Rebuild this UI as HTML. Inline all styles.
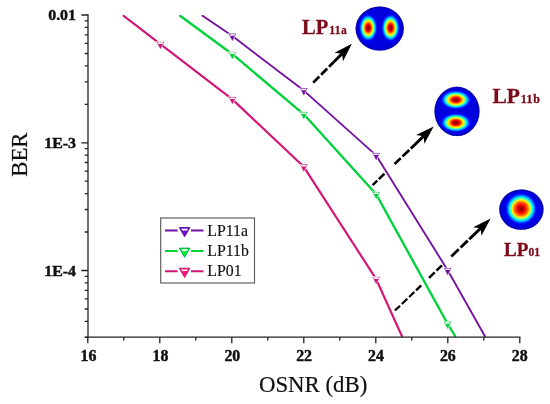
<!DOCTYPE html>
<html lang="en"><head><meta charset="utf-8"><title>BER versus OSNR</title>
<style>html,body{margin:0;padding:0;background:#fff}body{width:550px;height:404px;overflow:hidden}svg{display:block}text{font-family:"Liberation Serif","Times New Roman",serif}.tick{font-weight:bold;font-size:15px;fill:#111;stroke:#111;stroke-width:0.45px}.axl{font-size:22.8px;fill:#111;stroke:#111;stroke-width:0.2px}.leg{font-size:15.8px;fill:#111;letter-spacing:0.05px;stroke:#111;stroke-width:0.15px}.mode{font-weight:bold;fill:#7c0a1a;stroke:#7c0a1a;stroke-width:0.3px}</style></head><body>
<svg width="550" height="404" viewBox="0 0 550 404">
<defs>
<filter id="jet" color-interpolation-filters="sRGB" x="0" y="0" width="1" height="1"><feComponentTransfer><feFuncR type="table" tableValues="0.000 0.000 0.000 0.000 0.000 0.000 0.000 0.000 0.000 0.000 0.000 0.000 0.000 0.000 0.000 0.000 0.000 0.000 0.000 0.000 0.000 0.000 0.000 0.000 0.000 0.062 0.125 0.188 0.250 0.312 0.375 0.438 0.500 0.562 0.625 0.688 0.750 0.812 0.875 0.938 1.000 1.000 1.000 1.000 1.000 1.000 1.000 1.000 1.000 1.000 1.000 1.000 1.000 1.000 1.000 1.000 1.000 0.938 0.875 0.812 0.750 0.688 0.625 0.562 0.500"/><feFuncG type="table" tableValues="0.000 0.000 0.000 0.000 0.000 0.000 0.000 0.000 0.000 0.062 0.125 0.188 0.250 0.312 0.375 0.438 0.500 0.562 0.625 0.688 0.750 0.812 0.875 0.938 1.000 1.000 1.000 1.000 1.000 1.000 1.000 1.000 1.000 1.000 1.000 1.000 1.000 1.000 1.000 1.000 1.000 0.938 0.875 0.812 0.750 0.688 0.625 0.562 0.500 0.438 0.375 0.312 0.250 0.188 0.125 0.062 0.000 0.000 0.000 0.000 0.000 0.000 0.000 0.000 0.000"/><feFuncB type="table" tableValues="0.500 0.562 0.625 0.688 0.750 0.812 0.875 0.938 1.000 1.000 1.000 1.000 1.000 1.000 1.000 1.000 1.000 1.000 1.000 1.000 1.000 1.000 1.000 1.000 1.000 0.938 0.875 0.812 0.750 0.688 0.625 0.562 0.500 0.438 0.375 0.312 0.250 0.188 0.125 0.062 0.000 0.000 0.000 0.000 0.000 0.000 0.000 0.000 0.000 0.000 0.000 0.000 0.000 0.000 0.000 0.000 0.000 0.000 0.000 0.000 0.000 0.000 0.000 0.000 0.000"/></feComponentTransfer></filter>
<radialGradient id="ga1" gradientUnits="userSpaceOnUse" cx="0" cy="0" r="14" gradientTransform="translate(368.2 27.8) scale(1 1.5)"><stop offset="0.0000" stop-color="#ffffff"/><stop offset="0.1071" stop-color="#f2f2f2"/><stop offset="0.2214" stop-color="#cccccc"/><stop offset="0.3714" stop-color="#8f8f8f"/><stop offset="0.4571" stop-color="#606060"/><stop offset="0.5286" stop-color="#404040"/><stop offset="0.6143" stop-color="#222222"/><stop offset="0.7143" stop-color="#181818"/><stop offset="1.0000" stop-color="#181818"/></radialGradient>
<radialGradient id="ga2" gradientUnits="userSpaceOnUse" cx="0" cy="0" r="14" gradientTransform="translate(390.6 27.8) scale(1 1.5)"><stop offset="0.0000" stop-color="#ffffff"/><stop offset="0.1071" stop-color="#f2f2f2"/><stop offset="0.2214" stop-color="#cccccc"/><stop offset="0.3714" stop-color="#8f8f8f"/><stop offset="0.4571" stop-color="#606060"/><stop offset="0.5286" stop-color="#404040"/><stop offset="0.6143" stop-color="#222222"/><stop offset="0.7143" stop-color="#181818"/><stop offset="1.0000" stop-color="#181818"/></radialGradient>
<radialGradient id="gb1" gradientUnits="userSpaceOnUse" cx="0" cy="0" r="14" gradientTransform="translate(455.8 99.8) scale(1.65 1.04)"><stop offset="0.0000" stop-color="#ffffff"/><stop offset="0.1071" stop-color="#f2f2f2"/><stop offset="0.2214" stop-color="#cccccc"/><stop offset="0.3714" stop-color="#8f8f8f"/><stop offset="0.4571" stop-color="#606060"/><stop offset="0.5286" stop-color="#404040"/><stop offset="0.6143" stop-color="#222222"/><stop offset="0.7143" stop-color="#181818"/><stop offset="1.0000" stop-color="#181818"/></radialGradient>
<radialGradient id="gb2" gradientUnits="userSpaceOnUse" cx="0" cy="0" r="14" gradientTransform="translate(455.8 122.7) scale(1.65 1.04)"><stop offset="0.0000" stop-color="#ffffff"/><stop offset="0.1071" stop-color="#f2f2f2"/><stop offset="0.2214" stop-color="#cccccc"/><stop offset="0.3714" stop-color="#8f8f8f"/><stop offset="0.4571" stop-color="#606060"/><stop offset="0.5286" stop-color="#404040"/><stop offset="0.6143" stop-color="#222222"/><stop offset="0.7143" stop-color="#181818"/><stop offset="1.0000" stop-color="#181818"/></radialGradient>
<radialGradient id="gc1" gradientUnits="userSpaceOnUse" cx="0" cy="0" r="24" gradientTransform="translate(521.1 208.8) scale(1 1)"><stop offset="0.0000" stop-color="#ffffff"/><stop offset="0.0833" stop-color="#f2f2f2"/><stop offset="0.1667" stop-color="#dfdfdf"/><stop offset="0.3000" stop-color="#bfbfbf"/><stop offset="0.3750" stop-color="#9f9f9f"/><stop offset="0.4167" stop-color="#808080"/><stop offset="0.4792" stop-color="#606060"/><stop offset="0.5500" stop-color="#404040"/><stop offset="0.6250" stop-color="#222222"/><stop offset="0.7083" stop-color="#181818"/><stop offset="1.0000" stop-color="#181818"/></radialGradient>
<clipPath id="clipa"><ellipse cx="379.7" cy="28.6" rx="24.1" ry="22.0"/></clipPath>
<clipPath id="clipb"><ellipse cx="457.0" cy="111.4" rx="22.5" ry="24.6"/></clipPath>
<clipPath id="clipc"><ellipse cx="521.4" cy="209.6" rx="22.1" ry="20.2"/></clipPath>
<clipPath id="plot"><rect x="88" y="15" width="440" height="322.2"/></clipPath>
</defs>
<rect width="550" height="404" fill="#fff"/>
<g clip-path="url(#clipa)"><g filter="url(#jet)"><rect x="353.6" y="4.6" width="52.2" height="48.0" fill="#181818"/><rect x="353.6" y="4.6" width="52.2" height="48.0" fill="url(#ga1)" style="mix-blend-mode:lighten"/><rect x="353.6" y="4.6" width="52.2" height="48.0" fill="url(#ga2)" style="mix-blend-mode:lighten"/></g></g>
<ellipse cx="379.7" cy="28.6" rx="23.5" ry="21.4" fill="none" stroke="#000070" stroke-opacity="0.35" stroke-width="1.6"/>
<g clip-path="url(#clipb)"><g filter="url(#jet)"><rect x="432.5" y="84.8" width="49.0" height="53.2" fill="#181818"/><rect x="432.5" y="84.8" width="49.0" height="53.2" fill="url(#gb1)" style="mix-blend-mode:lighten"/><rect x="432.5" y="84.8" width="49.0" height="53.2" fill="url(#gb2)" style="mix-blend-mode:lighten"/></g></g>
<ellipse cx="457.0" cy="111.4" rx="21.9" ry="24.0" fill="none" stroke="#000070" stroke-opacity="0.35" stroke-width="1.6"/>
<g clip-path="url(#clipc)"><g filter="url(#jet)"><rect x="497.3" y="187.4" width="48.2" height="44.4" fill="#181818"/><rect x="497.3" y="187.4" width="48.2" height="44.4" fill="url(#gc1)" style="mix-blend-mode:lighten"/></g></g>
<ellipse cx="521.4" cy="209.6" rx="21.5" ry="19.599999999999998" fill="none" stroke="#000070" stroke-opacity="0.35" stroke-width="1.6"/>
<g id="arrows">
<path d="M314.12 83.52L320.29 77.39L318.39 75.49L312.28 81.68ZM322.07 75.63L328.24 69.50L326.26 67.52L320.15 73.71ZM330.02 67.74L345.33 52.51L343.21 50.39L328.02 65.74Z" fill="#000"/>
<path d="M351.9 43.8L343.0 61.2L342.0 53.7L334.5 52.7Z" fill="#000"/>
<path d="M373.40 185.93L378.11 181.45L376.47 179.75L371.80 184.27ZM379.63 180.01L385.29 174.64L383.58 172.86L377.98 178.29ZM395.44 165.00L401.68 159.07L399.82 157.14L393.64 163.12ZM403.49 157.35L410.23 150.95L408.29 148.93L401.61 155.40ZM411.83 149.43L427.05 134.96L424.97 132.80L409.87 147.39Z" fill="#000"/>
<path d="M433.7 126.5L424.4 143.7L423.6 136.2L416.1 135.0Z" fill="#000"/>
<path d="M395.63 311.36L400.77 306.46L399.28 304.91L394.17 309.84ZM402.58 304.73L408.08 299.49L406.53 297.88L401.07 303.17ZM409.89 297.77L415.10 292.80L413.50 291.14L408.33 296.14ZM416.84 291.14L422.05 286.18L420.40 284.46L415.23 289.47ZM429.87 278.72L435.59 273.27L433.84 271.46L428.16 276.95ZM437.32 271.62L442.90 266.31L441.10 264.43L435.57 269.79ZM452.24 257.41L459.69 250.30L457.77 248.30L450.37 255.46ZM461.50 248.57L468.74 241.67L466.76 239.61L459.57 246.56ZM470.19 240.29L483.93 227.18L481.86 225.01L468.19 238.22Z" fill="#000"/>
<path d="M490.7 218.6L481.4 235.8L480.6 228.3L473.1 227.2Z" fill="#000"/>
</g>
<g clip-path="url(#plot)" fill="none" stroke-linejoin="round">
<path d="M122.8 15.2L160.4 44.2L232.4 99.4L303.8 166.8L376.2 279.2L402.3 337.0" stroke="#d21678" stroke-width="2.15"/>
<path d="M179.4 15.2L232.4 54.2L303.8 114.3L376.2 194.3L447.7 324.0L455.7 337.0" stroke="#00d23c" stroke-width="2.35"/>
<path d="M201.8 15.2L232.4 36.1L303.8 90.6L376.2 155.4L447.7 270.3L485.4 337.0" stroke="#7410a2" stroke-width="1.85"/>
</g>
<g id="markers">
<path d="M155.80 41.30L165.00 41.30L160.40 50.30Z" fill="#fff"/><path d="M156.80 41.90L164.00 41.90L160.40 48.90Z" fill="#d21678" stroke="#b8146a" stroke-opacity="0.55" stroke-width="0.4" stroke-linejoin="miter"/><path d="M157.48 42.35L163.32 42.35L162.52 43.90L158.28 43.90Z" fill="#fff"/>
<path d="M227.80 96.50L237.00 96.50L232.40 105.50Z" fill="#fff"/><path d="M228.80 97.10L236.00 97.10L232.40 104.10Z" fill="#d21678" stroke="#b8146a" stroke-opacity="0.55" stroke-width="0.4" stroke-linejoin="miter"/><path d="M229.48 97.55L235.32 97.55L234.52 99.10L230.28 99.10Z" fill="#fff"/>
<path d="M299.20 163.90L308.40 163.90L303.80 172.90Z" fill="#fff"/><path d="M300.20 164.50L307.40 164.50L303.80 171.50Z" fill="#d21678" stroke="#b8146a" stroke-opacity="0.55" stroke-width="0.4" stroke-linejoin="miter"/><path d="M300.88 164.95L306.72 164.95L305.92 166.50L301.68 166.50Z" fill="#fff"/>
<path d="M371.60 276.30L380.80 276.30L376.20 285.30Z" fill="#fff"/><path d="M372.60 276.90L379.80 276.90L376.20 283.90Z" fill="#d21678" stroke="#b8146a" stroke-opacity="0.55" stroke-width="0.4" stroke-linejoin="miter"/><path d="M373.28 277.35L379.12 277.35L378.32 278.90L374.08 278.90Z" fill="#fff"/>
<path d="M227.80 51.30L237.00 51.30L232.40 60.30Z" fill="#fff"/><path d="M228.80 51.90L236.00 51.90L232.40 58.90Z" fill="#00d23c" stroke="#00a838" stroke-opacity="0.55" stroke-width="0.4" stroke-linejoin="miter"/><path d="M229.48 52.35L235.32 52.35L234.52 53.90L230.28 53.90Z" fill="#fff"/>
<path d="M299.20 111.40L308.40 111.40L303.80 120.40Z" fill="#fff"/><path d="M300.20 112.00L307.40 112.00L303.80 119.00Z" fill="#00d23c" stroke="#00a838" stroke-opacity="0.55" stroke-width="0.4" stroke-linejoin="miter"/><path d="M300.88 112.45L306.72 112.45L305.92 114.00L301.68 114.00Z" fill="#fff"/>
<path d="M371.60 191.40L380.80 191.40L376.20 200.40Z" fill="#fff"/><path d="M372.60 192.00L379.80 192.00L376.20 199.00Z" fill="#00d23c" stroke="#00a838" stroke-opacity="0.55" stroke-width="0.4" stroke-linejoin="miter"/><path d="M373.28 192.45L379.12 192.45L378.32 194.00L374.08 194.00Z" fill="#fff"/>
<path d="M443.10 321.10L452.30 321.10L447.70 330.10Z" fill="#fff"/><path d="M444.10 321.70L451.30 321.70L447.70 328.70Z" fill="#00d23c" stroke="#00a838" stroke-opacity="0.55" stroke-width="0.4" stroke-linejoin="miter"/><path d="M444.78 322.15L450.62 322.15L449.82 323.70L445.58 323.70Z" fill="#fff"/>
<path d="M227.80 33.20L237.00 33.20L232.40 42.20Z" fill="#fff"/><path d="M228.80 33.80L236.00 33.80L232.40 40.80Z" fill="#7410a2" stroke="#5a0a90" stroke-opacity="0.55" stroke-width="0.4" stroke-linejoin="miter"/><path d="M229.48 34.25L235.32 34.25L234.52 35.80L230.28 35.80Z" fill="#fff"/>
<path d="M299.20 87.70L308.40 87.70L303.80 96.70Z" fill="#fff"/><path d="M300.20 88.30L307.40 88.30L303.80 95.30Z" fill="#7410a2" stroke="#5a0a90" stroke-opacity="0.55" stroke-width="0.4" stroke-linejoin="miter"/><path d="M300.88 88.75L306.72 88.75L305.92 90.30L301.68 90.30Z" fill="#fff"/>
<path d="M371.60 152.50L380.80 152.50L376.20 161.50Z" fill="#fff"/><path d="M372.60 153.10L379.80 153.10L376.20 160.10Z" fill="#7410a2" stroke="#5a0a90" stroke-opacity="0.55" stroke-width="0.4" stroke-linejoin="miter"/><path d="M373.28 153.55L379.12 153.55L378.32 155.10L374.08 155.10Z" fill="#fff"/>
<path d="M443.10 267.40L452.30 267.40L447.70 276.40Z" fill="#fff"/><path d="M444.10 268.00L451.30 268.00L447.70 275.00Z" fill="#7410a2" stroke="#5a0a90" stroke-opacity="0.55" stroke-width="0.4" stroke-linejoin="miter"/><path d="M444.78 268.45L450.62 268.45L449.82 270.00L445.58 270.00Z" fill="#fff"/>
</g>
<g stroke="#222" stroke-width="1.3" fill="none">
<path d="M88 14.3V337.95"/>
<path d="M84.7 337.2H520.5"/>
<path d="M87.8 337.2V343.2M123.8 337.2V340.5M159.8 337.2V343.2M195.8 337.2V340.5M231.8 337.2V343.2M267.8 337.2V340.5M303.8 337.2V343.2M339.8 337.2V340.5M375.8 337.2V343.2M411.8 337.2V340.5M447.8 337.2V343.2M483.8 337.2V340.5M519.8 337.2V343.2"/>
<path d="M88 15.0H81.3M88 142.8H81.3M88 270.5H81.3M88 104.3H84.7M88 81.8H84.7M88 65.8H84.7M88 53.5H84.7M88 43.3H84.7M88 34.8H84.7M88 27.4H84.7M88 20.8H84.7M88 232.0H84.7M88 209.5H84.7M88 193.6H84.7M88 181.2H84.7M88 171.1H84.7M88 162.5H84.7M88 155.1H84.7M88 148.6H84.7M88 337.3H84.7M88 321.3H84.7M88 309.0H84.7M88 298.8H84.7M88 290.3H84.7M88 282.9H84.7M88 276.3H84.7"/>
</g>
<text class="tick" style="font-size:15.7px" transform="translate(88.5 360.6) scale(1.01 1)" text-anchor="middle">16</text>
<text class="tick" style="font-size:15.7px" transform="translate(160.4 360.6) scale(1.01 1)" text-anchor="middle">18</text>
<text class="tick" style="font-size:15.7px" transform="translate(232.3 360.6) scale(1.01 1)" text-anchor="middle">20</text>
<text class="tick" style="font-size:15.7px" transform="translate(304.1 360.6) scale(1.01 1)" text-anchor="middle">22</text>
<text class="tick" style="font-size:15.7px" transform="translate(376.0 360.6) scale(1.01 1)" text-anchor="middle">24</text>
<text class="tick" style="font-size:15.7px" transform="translate(447.8 360.6) scale(1.01 1)" text-anchor="middle">26</text>
<text class="tick" style="font-size:15.7px" transform="translate(519.7 360.6) scale(1.01 1)" text-anchor="middle">28</text>
<text class="tick" transform="translate(76 20.0) scale(1.06 1)" text-anchor="end">0.01</text>
<text class="tick" transform="translate(76 147.8) scale(1.06 1)" text-anchor="end">1E-3</text>
<text class="tick" transform="translate(76 275.5) scale(1.06 1)" text-anchor="end">1E-4</text>
<text class="axl" x="313.1" y="391.7" text-anchor="middle">OSNR (dB)</text>
<text class="axl" transform="translate(26.7 154.6) rotate(-90)" text-anchor="middle">BER</text>
<rect x="160.7" y="218" width="93.8" height="65" fill="#fff" stroke="#5a5a5a" stroke-width="1.15"/>
<path d="M165 230.6H177.6M191 230.6H203.5" stroke="#7410a2" stroke-width="2" fill="none"/>
<path d="M179.30 227.60L189.90 227.60L184.60 236.80Z" fill="#7608d0" stroke="#5a0a90" stroke-opacity="1" stroke-width="0.9" stroke-linejoin="miter"/><path d="M181.29 228.80L187.91 228.80L186.99 230.40L182.21 230.40Z" fill="#fff"/>
<text class="leg" x="207.2" y="236.1">LP11a</text>
<path d="M165 251.1H177.6M191 251.1H203.5" stroke="#00d23c" stroke-width="2" fill="none"/>
<path d="M179.30 248.10L189.90 248.10L184.60 257.30Z" fill="#00ee3c" stroke="#00a838" stroke-opacity="1" stroke-width="0.9" stroke-linejoin="miter"/><path d="M181.29 249.30L187.91 249.30L186.99 250.90L182.21 250.90Z" fill="#fff"/>
<text class="leg" x="207.2" y="256.4">LP11b</text>
<path d="M165 271.2H177.6M191 271.2H203.5" stroke="#d21678" stroke-width="2" fill="none"/>
<path d="M179.30 268.20L189.90 268.20L184.60 277.40Z" fill="#ff1482" stroke="#b8146a" stroke-opacity="1" stroke-width="0.9" stroke-linejoin="miter"/><path d="M181.29 269.40L187.91 269.40L186.99 271.00L182.21 271.00Z" fill="#fff"/>
<text class="leg" x="207.2" y="276.1">LP01</text>
<text class="mode" x="302.0" y="34.1" font-size="20.5px">LP<tspan font-size="11.5px" dx="1.0" dy="-0.3" letter-spacing="0.5">11a</tspan></text>
<text class="mode" x="492.4" y="102.6" font-size="21.5px">LP<tspan font-size="12px" dx="0.8" dy="0.4" letter-spacing="0.6">11b</tspan></text>
<text class="mode" x="504.0" y="256.2" font-size="19px">LP<tspan font-size="11.5px" dx="0.3" dy="0.0" letter-spacing="0.0">01</tspan></text>
</svg></body></html>
